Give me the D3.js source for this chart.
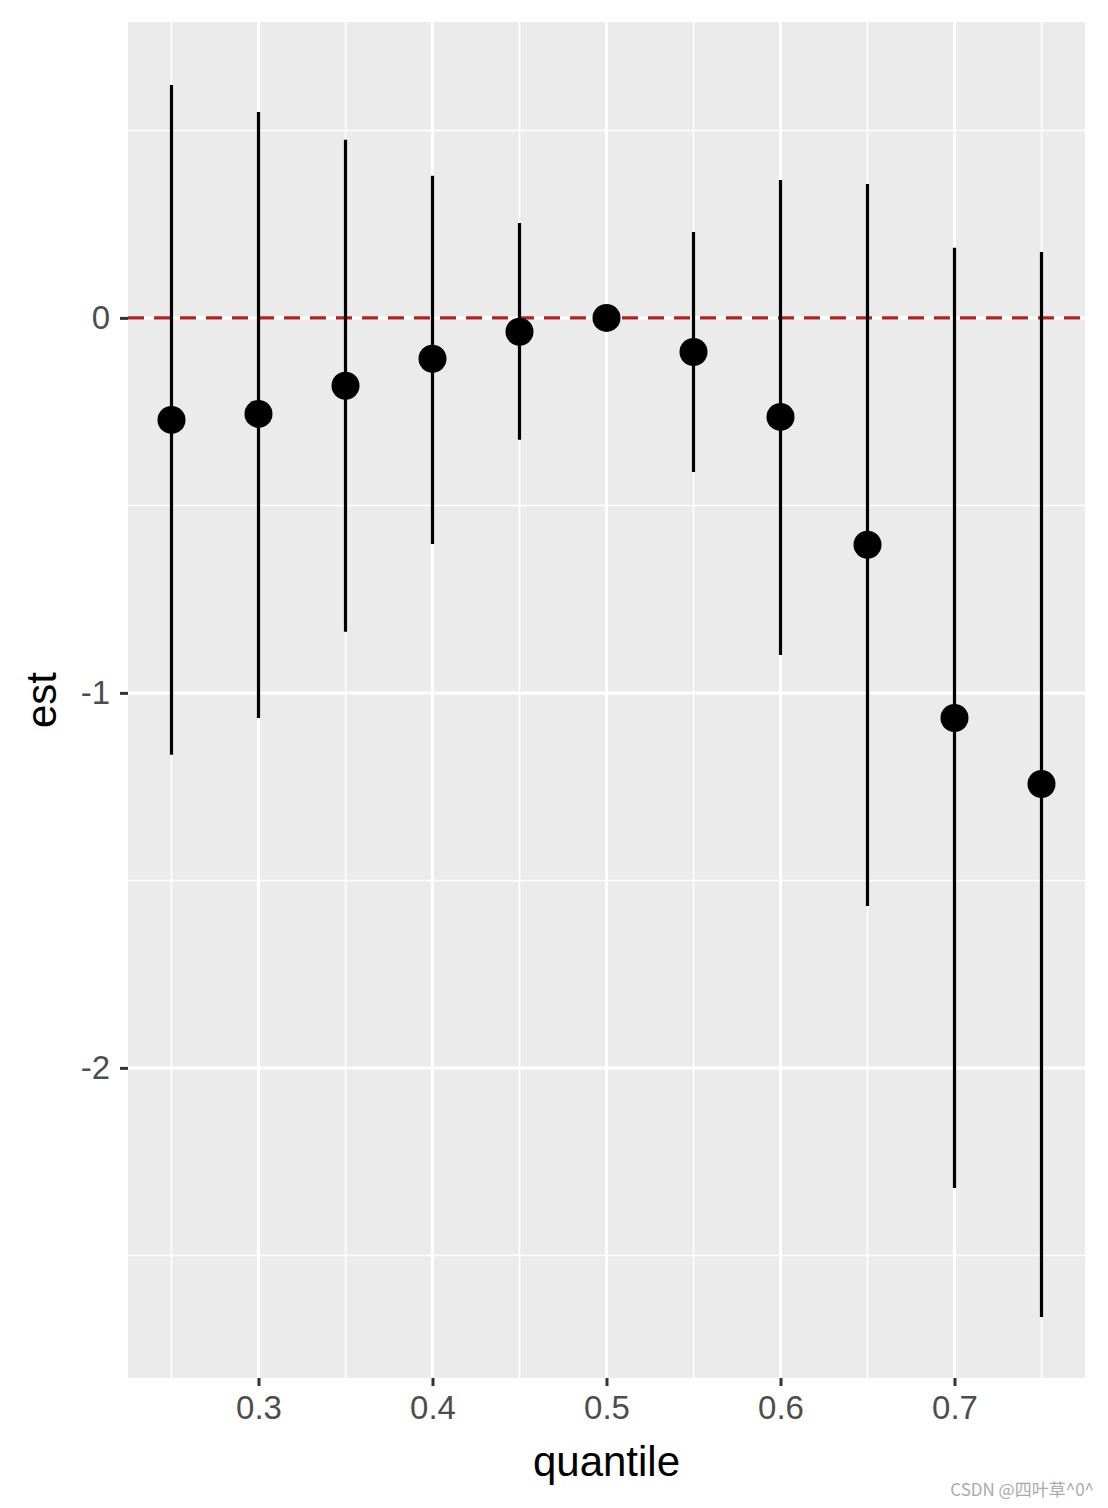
<!DOCTYPE html>
<html><head><meta charset="utf-8">
<script src="https://cdn.jsdelivr.net/npm/d3@7"></script>
<style>body{margin:0;background:#fff}svg{display:block}</style>
</head><body>
<svg width="1108" height="1508"></svg>
<script>
const quantiles = [0.25, 0.3, 0.35, 0.4, 0.45, 0.5, 0.55, 0.6, 0.65, 0.7, 0.75]
const est = [-0.272, -0.256, -0.181, -0.109, -0.037, 0, -0.091, -0.264, -0.605, -1.067, -1.243]
const lower = [-1.165, -1.067, -0.837, -0.603, -0.325, 0, -0.411, -0.899, -1.568, -2.32, -2.664]
const upper = [0.621, 0.549, 0.475, 0.379, 0.253, 0, 0.229, 0.368, 0.357, 0.187, 0.176]
const xTicks = [0.3, 0.4, 0.5, 0.6, 0.7]
const xMinor = [0.25, 0.35, 0.45, 0.55, 0.65, 0.75]
const yTicks = [0, -1, -2]
const yMinor = [0.5, -0.5, -1.5, -2.5]

const data = quantiles.map((q, i) => ({q, est: est[i], lo: lower[i], hi: upper[i]}))

const svg = d3.select('svg')
const L = 128, R = 1085, T = 22, B = 1378
const x = d3.scaleLinear().domain([0.225, 0.775]).range([L, R])
const y = d3.scaleLinear().domain([-2.827, 0.789]).range([B, T])

svg.append('rect').attr('x', L).attr('y', T).attr('width', R - L).attr('height', B - T).attr('fill', '#ebebeb')

const g = svg.append('g')
g.selectAll('.xmin').data(xMinor).enter().append('line')
  .attr('x1', d => x(d)).attr('x2', d => x(d)).attr('y1', T).attr('y2', B)
  .attr('stroke', '#fff').attr('stroke-width', 1.5)
g.selectAll('.ymin').data(yMinor).enter().append('line')
  .attr('y1', d => y(d)).attr('y2', d => y(d)).attr('x1', L).attr('x2', R)
  .attr('stroke', '#fff').attr('stroke-width', 1.5)
g.selectAll('.xmaj').data(xTicks).enter().append('line')
  .attr('x1', d => x(d)).attr('x2', d => x(d)).attr('y1', T).attr('y2', B)
  .attr('stroke', '#fff').attr('stroke-width', 3)
g.selectAll('.ymaj').data(yTicks).enter().append('line')
  .attr('y1', d => y(d)).attr('y2', d => y(d)).attr('x1', L).attr('x2', R)
  .attr('stroke', '#fff').attr('stroke-width', 3)

const xAxis = svg.append('g').attr('transform', `translate(0,${B})`)
  .call(d3.axisBottom(x).tickValues(xTicks).tickSize(8).tickPadding(10).tickFormat(d3.format('.1f')))
const yAxis = svg.append('g').attr('transform', `translate(${L},0)`)
  .call(d3.axisLeft(y).tickValues(yTicks).tickSize(8).tickPadding(10).tickFormat(d => d === 0 ? '0' : d))
for (const a of [xAxis, yAxis]) {
  a.select('.domain').remove()
  a.selectAll('line').attr('stroke', '#333').attr('stroke-width', 3)
  a.selectAll('text').attr('fill', '#4d4d4d').style('font-family', 'Liberation Sans, Arial, sans-serif').style('font-size', '33px')
}

svg.append('line').attr('x1', L).attr('x2', R).attr('y1', y(0)).attr('y2', y(0))
  .attr('stroke', '#b22222').attr('stroke-width', 3.2).attr('stroke-dasharray', '16,10')

svg.selectAll('.err').data(data).enter().append('line')
  .attr('x1', d => x(d.q)).attr('x2', d => x(d.q)).attr('y1', d => y(d.lo)).attr('y2', d => y(d.hi))
  .attr('stroke', '#000').attr('stroke-width', 3.2)
svg.selectAll('circle').data(data).enter().append('circle')
  .attr('cx', d => x(d.q)).attr('cy', d => y(d.est)).attr('r', 14).attr('fill', '#000')

svg.append('text').attr('x', (L + R) / 2).attr('y', 1476).attr('text-anchor', 'middle')
  .style('font-family', 'Liberation Sans, Arial, sans-serif').style('font-size', '42px').text('quantile')
svg.append('text').attr('transform', `translate(56,${(T + B) / 2}) rotate(-90)`).attr('text-anchor', 'middle')
  .style('font-family', 'Liberation Sans, Arial, sans-serif').style('font-size', '42px').text('est')
svg.append('text').attr('x', 1094).attr('y', 1496).attr('text-anchor', 'end').attr('fill', '#aaa')
  .style('font-family', 'Noto Sans CJK SC, sans-serif').style('font-size', '17px').text('CSDN @四叶草^0^')
</script>
</body></html>
